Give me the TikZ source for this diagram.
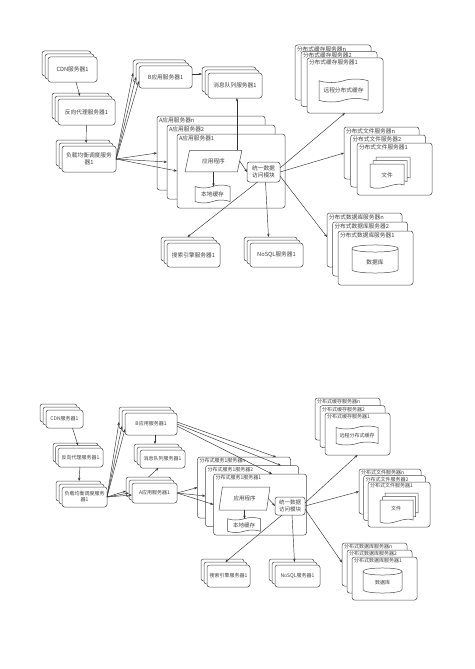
\documentclass[tikz,border=0pt]{standalone}
\usepackage{fontspec}
\setmainfont{Noto Sans CJK SC}
\usetikzlibrary{arrows.meta,shapes.geometric,shapes.symbols}
\tikzset{
  lay/.style={draw=black!70, fill=white, rounded corners=2.5pt, line width=0.5pt, inner sep=0pt, outer sep=0pt, text=black!75, align=center},
  lbl/.style={anchor=north west, inner sep=0.8pt, text=black!75},
  shp/.style={draw=black!70, fill=white, line width=0.5pt, inner sep=0pt, outer sep=0pt, text=black!75, align=center},
  docst/.style={draw=black!70, fill=white, line width=0.5pt},
  txt/.style={text=black!75, inner sep=0pt},
  arr/.style={draw=black!80, line width=0.45pt, -{Stealth[length=3.2pt,width=2.4pt]}},
  topfont/.style={every node/.append style={font=\fontsize{5.7}{6.9}\selectfont}},
  botfont/.style={every node/.append style={font=\fontsize{5}{6}\selectfont}},
}
% small stack: name, cx, cy, w, h, d, text
\newcommand{\sstk}[7]{%
  \node[lay, minimum width=#4pt, minimum height=#5pt] (#1-c) at ({#2-2*#6},{#3-2*#6}) {};
  \node[lay, minimum width=#4pt, minimum height=#5pt] (#1-b) at ({#2-#6},{#3-#6}) {};
  \node[lay, minimum width=#4pt, minimum height=#5pt] (#1) at (#2,#3) {#7};
}
% big stack: name, cx, cy, w, h, dx, dy, label prefix
\newcommand{\bstk}[8]{%
  \node[lay, minimum width=#4pt, minimum height=#5pt] (#1-c) at ({#2-2*#6},{#3-2*#7}) {};
  \node[lbl] (#1-cl) at ([xshift=1pt,yshift=-0.5pt]#1-c.north west) {#8n};
  \node[lay, minimum width=#4pt, minimum height=#5pt] (#1-b) at ({#2-#6},{#3-#7}) {};
  \node[lbl] (#1-bl) at ([xshift=1pt,yshift=-0.5pt]#1-b.north west) {#82};
  \node[lay, minimum width=#4pt, minimum height=#5pt] (#1) at (#2,#3) {};
  \node[lbl] (#1-l) at ([xshift=1pt,yshift=-0.5pt]#1.north west) {#81};
}
% document with wavy bottom: x1,y1,x2,y2
\newcommand{\docp}[4]{%
  \draw[docst] (#1,#2) -- (#3,#2) -- (#3,{#4-2}) .. controls ({#3-0.3*(#3-#1)},{#4-6}) and ({#1+0.35*(#3-#1)},{#4+5}) .. (#1,#4) -- cycle;
}
% cylinder: x1,y1,x2,y2
\newcommand{\cyl}[4]{%
  \draw[docst] (#1,{#2+3.5}) -- (#1,{#4-3.5}) .. controls (#1,{#4+1.2}) and (#3,{#4+1.2}) .. (#3,{#4-3.5}) -- (#3,{#2+3.5}) .. controls (#3,{#2-1.2}) and (#1,{#2-1.2}) .. (#1,{#2+3.5}) -- cycle;
  \draw[docst, fill=none] (#1,{#2+3.5}) .. controls (#1,{#2+8.2}) and (#3,{#2+8.2}) .. (#3,{#2+3.5});
}
\begin{document}
\begin{tikzpicture}[x=1pt,y=-1pt]
\fill[white] (0,0) rectangle (474,669);
\useasboundingbox (0,0) rectangle (474,669);

% ================= upper diagram =================
\begin{scope}[topfont]
\sstk{cdn}{72.5}{69.5}{49}{25}{3}{CDN服务器1}
\sstk{rp}{86.5}{112}{57}{26}{3}{反向代理服务器1}
\sstk{lb}{89}{159}{54}{26}{3}{负载均衡调度服务\\器1}
\sstk{bs}{165.5}{77}{53}{22}{3}{B应用服务器1}
\sstk{mq}{235}{85.5}{54}{25}{3}{消息队列服务器1}
\sstk{se}{193.5}{255}{53}{24}{3}{搜索引擎服务器1}
\sstk{ns}{276.5}{255}{53}{24}{3}{NoSQL服务器1}
\bstk{as}{231}{171}{108}{74}{10}{9}{A应用服务器}
\bstk{dc}{345}{85.5}{76}{55}{6}{6.5}{分布式缓存服务器}
\bstk{df}{394.5}{169}{75}{52}{6.5}{8}{分布式文件服务器}
\bstk{db}{375.5}{258}{75}{54}{5.5}{9}{分布式数据库服务器}
\node[shp, trapezium, trapezium left angle=68, trapezium right angle=112, trapezium stretches=true, minimum width=57pt, minimum height=21.5pt] (app) at (213.5,161) {应用程序};
\node[shp, tape, tape bend height=3pt, minimum width=35pt, minimum height=18pt] (lc) at (212.5,194) {本地缓存};
\node[lay, minimum width=33pt, minimum height=20pt] (um) at (263.5,172) {统一数据\\访问模块};
\node[shp, tape, tape bend height=3.5pt, minimum width=49pt, minimum height=23pt] (rc) at (343.5,90.5) {远程分布式缓存};
\docp{376}{157}{410}{180}
\docp{373}{160.5}{407}{183.5}
\docp{370}{164}{404}{187}
\node[txt] (fi) at (387,175) {文件};
\cyl{352}{245}{398}{273}
\node[txt] (dbc) at (375,262) {数据库};

\draw[arr] (cdn) -- (rp-b);
\draw[arr] (rp) -- (lb-b);
\draw[arr] ([yshift=1pt]lb.east) -- ([yshift=-2pt]bs-c.west);
\draw[arr] (lb.east) -- ([yshift=-3pt]bs-b.west);
\draw[arr] ([yshift=-1pt]lb.east) -- ([yshift=-4pt]bs.west);
\draw[arr] (lb.east) -- (as-c.west);
\draw[arr] (lb.east) -- (as-b.west);
\draw[arr] (lb.east) -- (as.west);
\draw[arr] ([yshift=3pt]bs.east) -- ([yshift=3pt]bs.east -| mq-c.west);
\coordinate (appt) at ([xshift=-5pt]app.top right corner);
\draw[arr] (appt) -- (appt |- mq.south);
\draw[arr] (app.south) -- (app.south |- lc.north);
\draw[arr] (app.east) -- (um.west);
\draw[arr] ([yshift=4pt]um.east) -- (dc.south);
\draw[arr] (um.east) -- (df-c.west);
\draw[arr] ([yshift=-4pt]um.east) -- ([yshift=3pt]db-c.west);
\draw[arr] ([xshift=-6pt]um.south) -- (se-c.north);
\draw[arr] ([xshift=2pt]um.south) -- ([xshift=-2pt]ns-c.north);
\end{scope}

% ================= lower diagram =================
\begin{scope}[botfont]
\sstk{cdnB}{64.5}{419}{37}{18}{3}{CDN服务器1}
\sstk{rpB}{80.5}{457.5}{45}{19}{2.5}{反向代理服务器1}
\sstk{lbB}{84.5}{497}{45}{20}{3}{负载均衡调度服务\\器1}
\sstk{bsB}{151}{424}{52}{22}{3}{B应用服务器1}
\sstk{mqB}{162.5}{459}{45}{18}{3}{消息队列服务器1}
\sstk{asB}{154.5}{493}{45}{20}{3}{A应用服务器1}
\sstk{seB}{228.5}{576}{43}{22}{3}{搜索引擎服务器1}
\sstk{nsB}{297.5}{576}{45}{22}{3}{NoSQL服务器1}
\bstk{sv}{260}{504.5}{93}{61}{8}{8.5}{分布式服务1服务器}
\bstk{dcB}{357.5}{434}{65}{42}{5}{7.5}{分布式缓存服务器}
\bstk{dfB}{399}{504.5}{62}{45}{4.5}{6.5}{分布式文件服务器}
\bstk{dbB}{384.5}{578.5}{65}{43}{5}{7}{分布式数据库服务器}
\begin{scope}[every node/.append style={font=\fontsize{5.5}{6.6}\selectfont}]
\node[shp, trapezium, trapezium left angle=72, trapezium right angle=108, trapezium stretches=true, minimum width=51pt, minimum height=23pt] (appB) at (244.5,498.5) {应用程序};
\node[shp, tape, tape bend height=2.5pt, minimum width=33pt, minimum height=15pt] (lcB) at (244,525) {本地缓存};
\node[lay, minimum width=30pt, minimum height=18pt] (umB) at (290,506) {统一数据\\访问模块};
\end{scope}
\node[shp, tape, tape bend height=3pt, minimum width=42pt, minimum height=19pt] (rcB) at (357,435.5) {远程分布式缓存};
\docp{385}{493}{418}{515}
\docp{382.5}{496.5}{415.5}{518.5}
\docp{380}{500}{413}{522}
\node[txt] (fiB) at (396,509) {文件};
\cyl{363}{568}{402}{593}
\node[txt] (dbcB) at (382.5,583) {数据库};

\draw[arr] ([xshift=8pt]cdnB.south) -- (rpB-b.north);
\draw[arr] (rpB) -- (lbB-c);
\draw[arr] (lbB.east) -- ([yshift=-4pt]bsB-c.west);
\draw[arr] (lbB.east) -- ([yshift=-5pt]bsB-b.west);
\draw[arr] (lbB.east) -- ([yshift=-5pt]bsB.west);
\draw[arr] (lbB.east) -- ([yshift=-4pt]asB-c.west);
\draw[arr] (lbB.east) -- ([yshift=-3pt]asB-b.west);
\draw[arr] (lbB.east) -- ([yshift=-2pt]asB.west);
\draw[arr] ([xshift=4pt]bsB.south) -- ([xshift=4pt]bsB.south |- mqB-c.north);
\draw[arr] (asB-c.north) -- ([xshift=-4pt]mqB.south);
\draw[arr] ([yshift=2pt]bsB.east) -- ([xshift=32pt]sv-c.north);
\draw[arr] (bsB.east) -- ([xshift=29pt]sv-b.north);
\draw[arr] ([yshift=-2pt]bsB.east) -- ([xshift=12pt]sv.north);
\draw[arr] (asB.east) -- (sv-c.west);
\draw[arr] (asB.east) -- (sv-b.west);
\draw[arr] (asB.east) -- (sv.west);
\draw[arr] (appB.east) -- (umB.west);
\draw[arr] (appB.south) -- (appB.south |- lcB.north);
\draw[arr] ([yshift=3pt]umB.east) -- (dcB.south);
\draw[arr] (umB.east) -- (dfB-c.west);
\draw[arr] ([yshift=-3pt]umB.east) -- ([yshift=2pt]dbB-c.west);
\draw[arr] ([xshift=-8pt]umB.south) -- (seB-b.north);
\draw[arr] ([xshift=2pt]umB.south) -- (nsB-b.north);
\end{scope}
\end{tikzpicture}
\end{document}
